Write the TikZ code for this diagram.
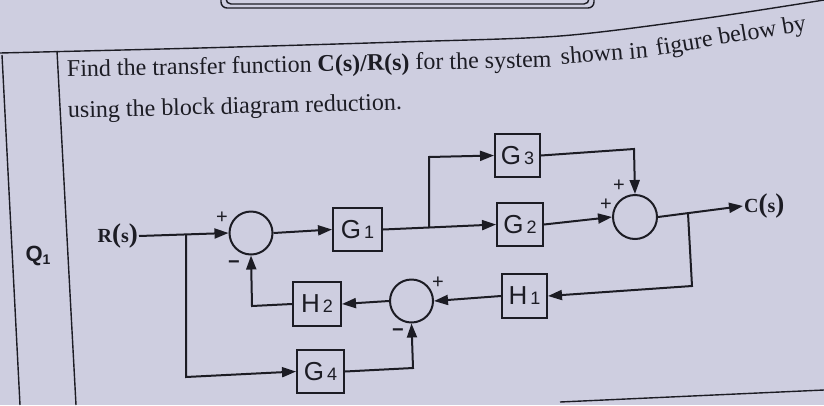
\documentclass[tikz,border=0pt]{standalone}
\usepackage{fontspec}
\setmainfont{Liberation Serif}
\setsansfont{Liberation Sans}
\usetikzlibrary{arrows.meta}
\definecolor{paper}{RGB}{206,206,224}
\definecolor{ink}{RGB}{28,28,36}
\newcommand\blksub[1]{{\fontsize{18}{18}\selectfont\,#1}}
\newcommand\bigparen[1]{{\fontsize{27}{27}\selectfont #1}}
\begin{document}
\begin{tikzpicture}[x=1pt,y=-1pt,
  line/.style={draw=ink,line width=2pt},
  arr/.style={draw=ink,line width=2pt,-{Triangle[length=14pt,width=10pt]}},
  rule/.style={draw=ink,line width=1.4pt},
  blk/.style={draw=ink,line width=2pt,minimum width=47pt,minimum height=43pt,inner sep=0pt,
    font=\sffamily\fontsize{26}{26}\selectfont,text=ink},
  sumj/.style={draw=ink,line width=2pt,circle,minimum size=43pt,inner sep=0pt},
  sgn/.style={font=\sffamily\fontsize{20}{20}\selectfont,text=ink,inner sep=0pt},
  title/.style={font=\fontsize{24}{24}\selectfont,text=ink,inner sep=0pt,anchor=base west},
  sig/.style={font=\bfseries\fontsize{20}{20}\selectfont,text=ink,inner sep=1pt}]
\useasboundingbox (0,0) rectangle (824,405);
\clip (0,0) rectangle (824,405);
\fill[paper] (0,0) rectangle (824,405);
% table rules
\draw[rule] plot[smooth] coordinates {(0,53) (200,48) (400,42) (560,36) (700,19) (824,0)};
\draw[rule] (2,55) -- (20,405);
\draw[rule] (57,51) -- (76,405);
\draw[rule] (560,402) -- (824,390);
\draw[rule,rounded corners=6pt] (221,-10) -- (221,8) -- (594,8) -- (594,-10);
\draw[rule,rounded corners=5pt] (226,-10) -- (226,4) -- (589,4) -- (589,-10);
% question label
\node[font=\sffamily\bfseries\fontsize{22}{22}\selectfont,text=ink] (Q) at (38,256)
  {Q\raisebox{-3pt}{\fontsize{14}{14}\selectfont 1}};
% title text
\node[title,rotate=1.17] (t1) at (67,77) {Find the transfer function \textbf{C(s)/R(s)} for the system};
\node[title,rotate=4.3] (t2) at (561,64.3) {shown in};
\node[title,rotate=9.6] (t4) at (657,55.5) {figure below by};
\node[title,rotate=1.4] (t7) at (68,118) {using the block diagram reduction.};
% blocks and junctions
\node[sumj] (J1) at (251,233) {};
\node[blk,minimum width=49pt] (G1) at (357.5,229.5) {G\blksub{1}};
\node[blk,minimum width=45pt] (G3) at (517.5,155.5) {G\blksub{3}};
\node[blk,minimum width=46pt] (G2) at (520,224.5) {G\blksub{2}};
\node[sumj,minimum size=44pt] (J3) at (635,217) {};
\node[blk,minimum width=45pt,minimum height=44pt] (H1) at (524.5,296) {H\blksub{1}};
\node[sumj] (J2) at (411.5,301) {};
\node[blk,minimum width=48pt,minimum height=44pt] (H2) at (317,304) {H\blksub{2}};
\node[blk] (G4) at (320.5,371.5) {G\blksub{4}};
\node[sig,anchor=east] (R) at (139,236) {R\bigparen{(}s\bigparen{)}};
\node[sig,anchor=west] (C) at (743,206) {C\bigparen{(}s\bigparen{)}};
% branch points and corners
\coordinate (rb) at (186,234.6);
\coordinate (rd) at (186,377);
\coordinate (b1) at (429,227.5);
\coordinate (b1u) at (429,157);
\coordinate (g3c) at (634,149);
\coordinate (cb) at (688,213.3);
\coordinate (cd) at (692,286);
\coordinate (h2l) at (252,306);
\coordinate (g4r) at (413,368);
% connectors
\draw[arr] (R.east) -- (J1.west);
\draw[arr] (rb) -- (rd) -- (G4.west);
\draw[arr] (J1.east) -- (G1.west);
\draw[line] (G1.east) -- (b1);
\draw[arr] (b1) -- (G2.west);
\draw[arr] (b1) -- (b1u) -- (G3.west);
\draw[arr] (G3.east) -- (g3c) -- (J3.north);
\draw[arr] (G2.east) -- (J3.west);
\draw[arr] (J3.east) -- (C.west);
\draw[arr] (cb) -- (cd) -- (H1.east);
\draw[arr] (H1.west) -- (J2.east);
\draw[arr] (J2.west) -- (H2.east);
\draw[arr] (H2.west) -- (h2l) -- (J1.south);
\draw[arr] (G4.east) -- (g4r) -- (J2.south);
% signs
\node[sgn] (p1) at (222,218) {+};
\node[sgn] (m1) at (234,265) {\bfseries −};
\node[sgn] (p2) at (438,283) {+};
\node[sgn] (m2) at (398,333) {\bfseries −};
\node[sgn] (p3) at (619,186) {+};
\node[sgn] (p4) at (606,205) {+};
\end{tikzpicture}
\end{document}
